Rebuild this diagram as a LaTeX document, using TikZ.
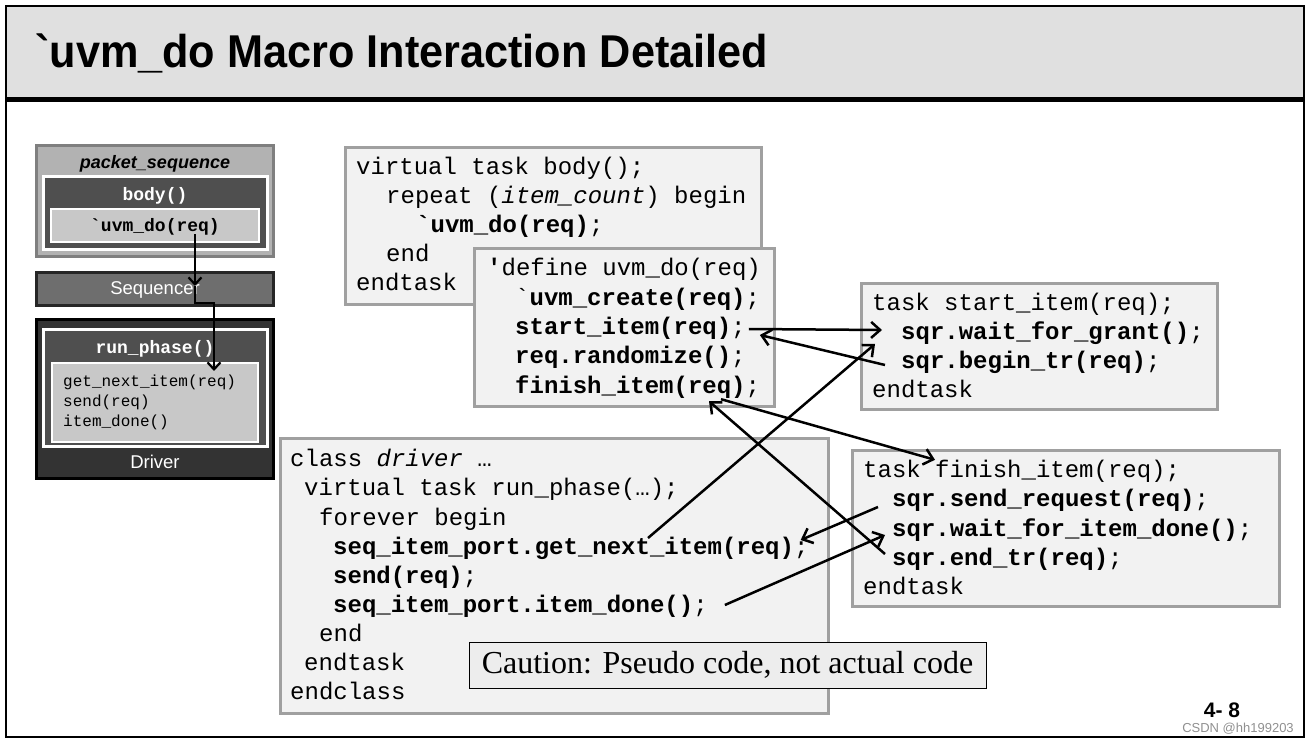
\documentclass[tikz,border=0pt]{standalone}
\usepackage{fontspec}
\setmainfont{Liberation Serif}
\setsansfont{Liberation Sans}
\setmonofont{Liberation Mono}
\newfontfamily\titlefont[FakeStretch=0.94]{Liberation Sans}
\usepackage{tikz}
\usetikzlibrary{arrows.meta, calc}

\definecolor{boxfill}{HTML}{F2F2F2}
\definecolor{boxline}{HTML}{A0A0A0}
\definecolor{bandgray}{HTML}{E0E0E0}
\definecolor{seqlight}{HTML}{B2B2B2}
\definecolor{seqdark}{HTML}{7F7F7F}
\definecolor{midgray}{HTML}{6E6E6E}
\definecolor{darkgray}{HTML}{4F4F4F}
\definecolor{drvgray}{HTML}{333333}
\definecolor{callgray}{HTML}{C8C8C8}
\definecolor{markgray}{HTML}{909090}

\newcommand\codefont{\ttfamily\fontsize{24}{29}\selectfont}

\begin{document}
\begin{tikzpicture}[
    x=1pt, y=-1pt,
    codebox/.style={draw=boxline, line width=3pt, fill=boxfill, inner sep=0pt},
    codeline/.style={font=\codefont, anchor=west, inner sep=0pt, text height=17pt, text depth=5pt, yshift=-2pt},
    blockbox/.style={rectangle, inner sep=0pt, line width=3pt},
    whitetext/.style={text=white, inner sep=0pt},
    flow/.style={line width=2.5pt, -{Straight Barb[length=9pt,width=16pt]}},
    seqflow/.style={line width=2.2pt, -{Straight Barb[length=7pt,width=13pt]}}
    ]
    \useasboundingbox (0,0) rectangle (1310,743);

    % Slide frame and title
    \fill[bandgray] (6,6) rectangle (1304,97);
    \draw[line width=5pt] (6,99.5) -- (1304,99.5);
    \draw[line width=2pt] (6,6) rectangle (1304,737);
    \node[anchor=base west, inner sep=0pt, font=\titlefont\bfseries\fontsize{46}{50}\selectfont] (title) at (35,68) {`uvm\_do Macro Interaction Detailed};

    % Left block
    \node[blockbox, draw=seqdark, fill=seqlight, minimum width=237pt, minimum height=111pt] (psBox) at (154.5,201.5) {};
    \node[blockbox, draw=white, fill=darkgray, minimum width=224pt, minimum height=73pt] (bodyBox) at (155,213.5) {};
    \node[blockbox, draw=white, line width=2.5pt, fill=callgray, minimum width=208pt, minimum height=33pt] (doBox) at (155,225.5) {};
    \node[inner sep=0pt, font=\sffamily\bfseries\itshape\fontsize{18}{20}\selectfont] (psTitle) at (155,164) {packet\_sequence};
    \node[whitetext, font=\ttfamily\bfseries\fontsize{18}{20}\selectfont] (bodyTitle) at (155,196) {body()};
    \node[inner sep=0pt, font=\ttfamily\bfseries\fontsize{18}{20}\selectfont] (doText) at (155,227) {`uvm\_do(req)};

    \node[blockbox, draw=black!85, fill=midgray, minimum width=237pt, minimum height=33pt] (seqBox) at (154.5,289.5) {};
    \node[whitetext, font=\sffamily\fontsize{18.5}{20}\selectfont] (seqText) at (155,290) {Sequencer};

    \node[blockbox, draw=black, fill=drvgray, minimum width=237pt, minimum height=158pt] (drvBox) at (154.5,399) {};
    \node[blockbox, draw=white, fill=darkgray, minimum width=224pt, minimum height=116pt] (runBox) at (155,388) {};
    \node[blockbox, draw=white, line width=2.5pt, fill=callgray, minimum width=206pt, minimum height=79pt] (callsBox) at (155,402.5) {};
    \node[whitetext, font=\ttfamily\bfseries\fontsize{18}{20}\selectfont] (runTitle) at (155,349) {run\_phase()};
    \node[anchor=west, inner sep=0pt, font=\ttfamily\fontsize{16}{18}\selectfont] (callA) at (63,382) {get\_next\_item(req)};
    \node[anchor=west, inner sep=0pt, font=\ttfamily\fontsize{16}{18}\selectfont] (callB) at (63,402) {send(req)};
    \node[anchor=west, inner sep=0pt, font=\ttfamily\fontsize{16}{18}\selectfont] (callC) at (63,422) {item\_done()};
    \node[whitetext, font=\sffamily\fontsize{18.5}{20}\selectfont] (drvText) at (155,462) {Driver};

    \coordinate (seqin) at (195,286);
    \coordinate (runin) at (214,371);
    \draw[seqflow] ([xshift=40pt,yshift=9pt]doBox.south) -- (seqin);
    \draw[seqflow] (seqin) -- ++(0,17) -| (runin);

    % Sequence body
    \node[codebox, minimum width=416pt, minimum height=157pt] (bodyCode) at (553,226.5) {};
    \node[codeline] (bodyHead) at (356,167) {virtual task body();};
    \node[codeline] (repeatLine) at (386,196) {repeat (\textit{item\_count}) begin};
    \node[codeline] (doCall) at (416,225) {\textbf{`uvm\_do(req)};};
    \node[codeline] (endRepeat) at (386,254) {end};
    \node[codeline] (endBody) at (356,283) {endtask};

    % Macro definition
    \node[codebox, minimum width=300pt, minimum height=158pt] (defineCode) at (624,328) {};
    \node[codeline] (defineLine) at (487,268) {\textbf{'}define uvm\_do(req)};
    \node[codeline] (createLine) at (515,298) {`\textbf{uvm\_create(req)};};
    \node[codeline] (startItem) at (515,327) {\textbf{start\_item(req)};};
    \node[codeline] (randLine) at (515,356) {\textbf{req.randomize()};};
    \node[codeline] (finishItem) at (515,386) {\textbf{finish\_item(req)};};

    % start_item task
    \node[codebox, minimum width=356pt, minimum height=126pt] (startCode) at (1039,347) {};
    \node[codeline] (startTask) at (872,303) {task start\_item(req);};
    \node[codeline] (waitGrant) at (901,332) {\textbf{sqr.wait\_for\_grant()};};
    \node[codeline] (beginTr) at (901,361) {\textbf{sqr.begin\_tr(req)};};
    \node[codeline] (endStart) at (872,390) {endtask};

    % Driver class
    \node[codebox, minimum width=548pt, minimum height=275pt] (driverCode) at (554,575.5) {};
    \node[codeline] (classLine) at (290,458) {class \textit{driver} …};
    \node[codeline] (runLine) at (304,487) {virtual task run\_phase(…);};
    \node[codeline] (foreverLine) at (319,517) {forever begin};
    \node[codeline] (getNext) at (333,546) {\textbf{seq\_item\_port.get\_next\_item(req)};};
    \node[codeline] (sendLine) at (333,575) {\textbf{send(req)};};
    \node[codeline] (itemDone) at (333,604) {\textbf{seq\_item\_port.item\_done()};};
    \node[codeline] (endForever) at (319,633) {end};
    \node[codeline] (endRun) at (304,662) {endtask};
    \node[codeline] (endClass) at (290,691) {endclass};

    % finish_item task
    \node[codebox, minimum width=427pt, minimum height=156pt] (finishCode) at (1065.5,528) {};
    \node[codeline] (finishTask) at (863,469) {task finish\_item(req);};
    \node[codeline] (sendReq) at (892,498) {\textbf{sqr.send\_request(req)};};
    \node[codeline] (waitDone) at (892,528) {\textbf{sqr.wait\_for\_item\_done()};};
    \node[codeline] (endTr) at (892,557) {\textbf{sqr.end\_tr(req)};};
    \node[codeline] (endFinish) at (863,586) {endtask};

    % Caution note
    \node[draw=black, line width=1pt, fill=black!7, inner sep=0pt, minimum width=517pt, minimum height=46pt,
          font=\rmfamily\fontsize{32}{36}\selectfont] (caution) at (727.5,665) {Caution: Pseudo code, not actual code};

    % Page number
    \node[inner sep=0pt, font=\sffamily\bfseries\fontsize{21}{23}\selectfont] (pageNum) at (1222,710) {4- 8};
    \node[inner sep=0pt, text=markgray, font=\sffamily\fontsize{13}{15}\selectfont] (mark) at (1238,729) {CSDN @hh199203};

    % Arrows
    \draw[flow] ([xshift=3pt]startItem.east) -- ([xshift=-19pt,yshift=4pt]waitGrant.west);
    \draw[flow] ([xshift=-16pt,yshift=-2pt]beginTr.west) -- ([xshift=14pt,yshift=-6pt]startItem.east);
    \draw[flow] ([xshift=315pt,yshift=10pt]getNext.west) -- ([xshift=-26pt,yshift=-10pt]waitGrant.west);
    \draw[flow] ([xshift=206pt]finishItem.south west) -- ([xshift=72pt]finishTask.north west);
    \draw[flow] ([xshift=-7pt,yshift=5pt]endTr.west) -- ([xshift=194pt,yshift=-2pt]finishItem.south west);
    \draw[flow] ([xshift=-14pt,yshift=-7pt]sendReq.west) -- ([xshift=-8pt,yshift=8pt]getNext.east);
    \draw[flow] ([xshift=17pt,yshift=1pt]itemDone.east) -- ([xshift=-7pt,yshift=-5pt]waitDone.west);
\end{tikzpicture}
\end{document}
